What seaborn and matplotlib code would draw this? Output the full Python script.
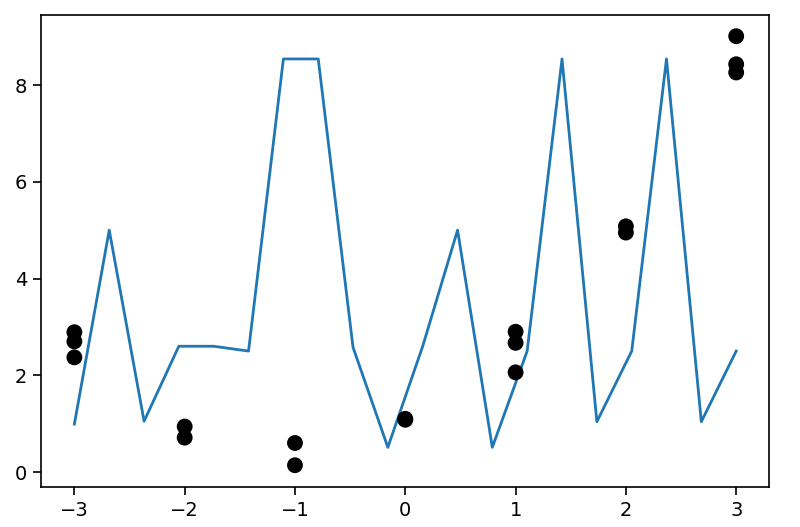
import matplotlib.pyplot as plt
import seaborn as sns

# line series
line_x = [-3.0, -2.684, -2.368, -2.053, -1.737, -1.421, -1.105, -0.789, -0.474, -0.158,
          0.158, 0.474, 0.789, 1.105, 1.421, 1.737, 2.053, 2.368, 2.684, 3.0]
line_y = [0.99, 5.0, 1.05, 2.6, 2.6, 2.5, 8.54, 8.54, 2.58, 0.51,
          2.6, 5.0, 0.51, 2.5, 8.54, 1.04, 2.5, 8.54, 1.04, 2.5]

# black dots
dots_x = [-3, -3, -3, -2, -2, -1, -1, 0, 0, 1, 1, 1, 2, 2, 3, 3, 3]
dots_y = [2.89, 2.70, 2.37, 0.94, 0.71, 0.60, 0.14, 1.10, 1.08, 2.90, 2.67, 2.06,
          5.08, 4.95, 9.01, 8.43, 8.26]

plt.rcParams['font.family'] = ['DejaVu Sans']
plt.rcParams['font.size'] = 14
plt.rcParams['xtick.major.size'] = 5.6
plt.rcParams['ytick.major.size'] = 5.6
plt.rcParams['xtick.major.width'] = 1.2
plt.rcParams['ytick.major.width'] = 1.2
plt.rcParams['xtick.major.pad'] = 4.5
plt.rcParams['ytick.major.pad'] = 4.5
plt.rcParams['axes.linewidth'] = 1.2

fig, ax = plt.subplots(figsize=(8, 5.27), dpi=100)
fig.subplots_adjust(left=0.0516, right=0.9616, top=0.972, bottom=0.0765)

sns.lineplot(x=line_x, y=line_y, ax=ax, color='#1f77b4', linewidth=2.0, sort=False)
sns.scatterplot(x=dots_x, y=dots_y, ax=ax, color='black', s=130, edgecolor='none', zorder=3)

ax.set_xticks([-3, -2, -1, 0, 1, 2, 3])
ax.set_yticks([0, 2, 4, 6, 8])

fig.savefig('out.png', dpi=100)
